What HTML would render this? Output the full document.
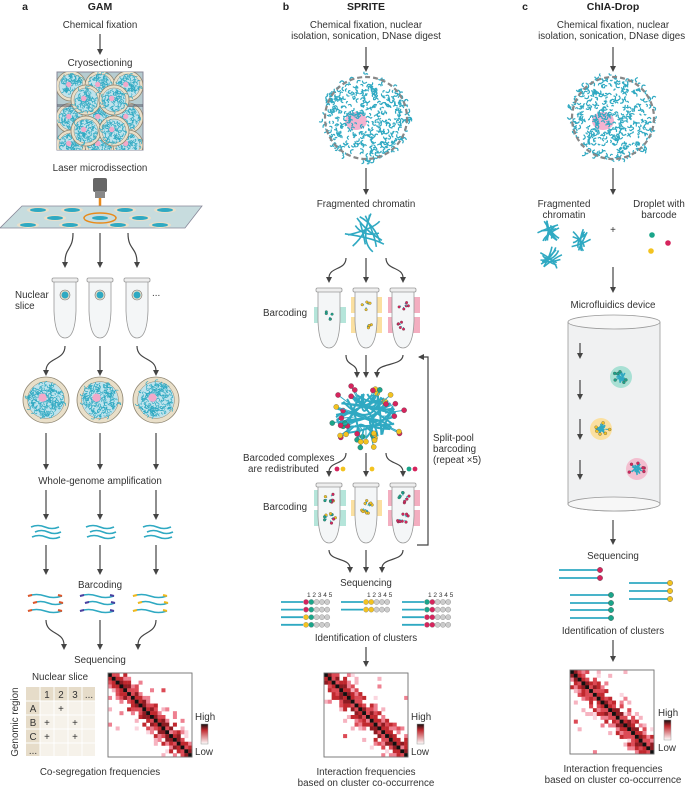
<!DOCTYPE html>
<html><head><meta charset="utf-8"><style>
html,body{margin:0;padding:0;background:#fff}
svg{display:block}
text{font-family:"Liberation Sans",sans-serif;font-size:9.8px;fill:#333}
.b{font-weight:bold;font-size:10.5px;fill:#222}
</style></head><body>
<svg id="s" width="685" height="787" viewBox="0 0 685 787" xmlns="http://www.w3.org/2000/svg">
<defs>
<linearGradient id="hg" x1="0" y1="0" x2="0" y2="1"><stop offset="0" stop-color="#111"/><stop offset="0.3" stop-color="#c0282e"/><stop offset="1" stop-color="#fff"/></linearGradient>
<clipPath id="cpbox"><rect x="57" y="72" width="86" height="78"/></clipPath>
</defs>
<g id="g"></g>
</svg>
<script>
var G=document.getElementById('g');var NS='http://www.w3.org/2000/svg';
var seed=7;function R(){seed=(seed*16807)%2147483647;return seed/2147483647;}
function el(t,a,p){var e=document.createElementNS(NS,t);for(var k in a)e.setAttribute(k,a[k]);(p||G).appendChild(e);return e;}
function tx(x,y,s,anc,cls){var e=el('text',{x:x,y:y,'text-anchor':anc||'middle'});if(cls)e.setAttribute('class',cls);e.textContent=s;return e;}
var AC='#444';
function head(x,y,ang){var a=ang*Math.PI/180,l=6,w=3;var bx=x-l*Math.cos(a),by=y-l*Math.sin(a);
 el('path',{d:'M'+x+','+y+' L'+(bx+w*Math.sin(a))+','+(by-w*Math.cos(a))+' L'+(bx-w*Math.sin(a))+','+(by+w*Math.cos(a))+'Z',fill:AC});}
function arr(x,y1,y2){el('line',{x1:x,y1:y1,x2:x,y2:y2-5,stroke:AC,'stroke-width':1.2});head(x,y2,90);}
function carr(x1,y1,x2,y2){var m=(y1+y2)/2;el('path',{d:'M'+x1+','+y1+' C'+x1+','+(m)+' '+x2+','+(m-4)+' '+x2+','+(y2-5),fill:'none',stroke:AC,'stroke-width':1.2});head(x2,y2,90);}
var CY='#2fa9c2';
function squig(cx,cy,r,n,sw){for(var i=0;i<n;i++){var a=R()*6.283,d=Math.sqrt(R())*r;var x=cx+d*Math.cos(a),y=cy+d*Math.sin(a);var b=R()*6.283,l=2+R()*3;
 el('path',{d:'M'+x+','+y+' q'+(l*Math.cos(b))+','+(l*Math.sin(b))+' '+(l*Math.cos(b+1))+','+(l*Math.sin(b+1)),stroke:CY,'stroke-width':sw||1,fill:'none'});}}
function cell(cx,cy,r,pink){el('circle',{cx:cx,cy:cy,r:r,fill:'#e9dfc9',stroke:'#8d8470','stroke-width':0.8});el('circle',{cx:cx,cy:cy,r:r*0.8,fill:'#bfe3ec',stroke:'#8d8470','stroke-width':0.5});
 squig(cx,cy,r*0.75,Math.floor(r*r*0.35),0.7);if(pink)el('circle',{cx:cx-r*0.15,cy:cy-r*0.1,r:r*0.18,fill:'#f2a9c9'});}
function nucleus(cx,cy){el('circle',{cx:cx,cy:cy,r:42,fill:'#fff'});el('ellipse',{cx:cx-10,cy:cy+3,rx:11,ry:9,fill:'#f4b3d0'});squig(cx,cy,44,420,1.2);
 el('circle',{cx:cx,cy:cy,r:41,fill:'none',stroke:'#888','stroke-width':2.2,'stroke-dasharray':'5 3'});}
function tube(x,y,h){var w=11;el('path',{d:'M'+(x-w)+','+(y+3)+' L'+(x-w)+','+(y+h*0.55)+' Q'+(x-w+1)+','+(y+h)+' '+x+','+(y+h)+' Q'+(x+w-1)+','+(y+h)+' '+(x+w)+','+(y+h*0.55)+' L'+(x+w)+','+(y+3)+'Z',fill:'#f4f6f7',stroke:'#999','stroke-width':0.8});
 el('rect',{x:x-w-2,y:y,width:2*w+4,height:4,rx:1.5,fill:'#eee',stroke:'#999','stroke-width':0.8});}
function heat(x,y,w,h){var n=22,cw=w/n,chh=h/n;el('rect',{x:x,y:y,width:w,height:h,fill:'#fff',stroke:'#777','stroke-width':0.8});
 var cols=['#111','#8e1b22','#c0282e','#dc4a55','#ee8090','#f6b3c0','#fbd5de'];
 for(var i=0;i<n;i++)for(var j=0;j<n;j++){var d=Math.abs(i-j),c=null;
  if(d==0)c=cols[0];else if(d<=2&&R()<0.92)c=cols[1+Math.floor(R()*3)];else if(d<=4&&R()<0.6)c=cols[2+Math.floor(R()*3)];else if(d<=7&&R()<0.2)c=cols[4+Math.floor(R()*3)];else if(R()<0.03)c=cols[3+Math.floor(R()*3)];
  if(c)el('rect',{x:x+j*cw,y:y+i*chh,width:cw+0.2,height:chh+0.2,fill:c});}
 el('rect',{x:x,y:y,width:w,height:h,fill:'none',stroke:'#777','stroke-width':0.8});}
function legend(x,y){tx(x,y,'High','start');el('rect',{x:x+6,y:y+4,width:7,height:20,fill:'url(#hg)',stroke:'#999','stroke-width':0.5});tx(x,y+35,'Low','start');}
function blob(cx,cy,s){for(var i=0;i<9;i++){var a=R()*6.28,l=s*(0.6+R()*0.6);el('path',{d:'M'+(cx-l*Math.cos(a))+','+(cy-l*Math.sin(a))+' Q'+(cx+(R()-0.5)*s)+','+(cy+(R()-0.5)*s)+' '+(cx+l*Math.cos(a+0.6))+','+(cy+l*Math.sin(a+0.6)),stroke:CY,'stroke-width':1.6,fill:'none'});}}
var GR='#1aa58a',YE='#f3c320',PK='#d6245d';
function dots(cx,cy,rr,n,cs,r){for(var i=0;i<n;i++){var a=R()*6.28,d=rr*(0.6+R()*0.5);var x=cx+d*Math.cos(a),y=cy+d*Math.sin(a)*0.85;
 el('line',{x1:cx+d*0.5*Math.cos(a),y1:cy+d*0.5*Math.sin(a)*0.85,x2:x,y2:y,stroke:CY,'stroke-width':1});el('circle',{cx:x,cy:y,r:r,fill:cs[i%cs.length],stroke:'#444','stroke-width':0.3});}}

tx(25,10,'a','middle','b');tx(100,10,'GAM','middle','b');tx(286,10,'b','middle','b');tx(366,10,'SPRITE','middle','b');tx(525,10,'c','middle','b');tx(613,10,'ChIA-Drop','middle','b');
// ---- Column a
tx(100,28,'Chemical fixation');arr(100,34,55);tx(100,66,'Cryosectioning');
el('rect',{x:57,y:72,width:86,height:78,fill:'#b6ccd0',stroke:'#889','stroke-width':1});
var cg=el('g',{'clip-path':'url(#cpbox)'});var GG=G;G=cg;
[[71,86],[100,86],[128,86],[71,118],[100,118],[128,118],[71,145],[100,145],[128,145]].forEach(function(p){cell(p[0],p[1],15,true);});
el('rect',{x:57,y:104,width:86,height:3,fill:'#556',opacity:0.5});
[[86,100],[114,100],[86,131],[114,131]].forEach(function(p){cell(p[0],p[1],15,true);});
G=GG;
tx(100,171,'Laser microdissection');
el('rect',{x:93,y:178,width:14,height:14,fill:'#666',rx:2});el('rect',{x:95,y:191,width:10,height:7,fill:'#888'});el('line',{x1:100,y1:198,x2:100,y2:215,stroke:'#e88a1a','stroke-width':2.5});
el('path',{d:'M22,206 L202,206 L185,228 L0,228 Z',fill:'#c7dcde',stroke:'#889','stroke-width':0.8});
[[38,210],[72,210],[125,210],[165,210],[55,218],[140,218],[28,225],[70,225],[118,225],[160,225]].forEach(function(p){el('ellipse',{cx:p[0],cy:p[1],rx:11,ry:3,fill:'#e9dfc9'});el('ellipse',{cx:p[0],cy:p[1],rx:8,ry:2,fill:CY});});
el('ellipse',{cx:100,cy:218,rx:16,ry:5,fill:'none',stroke:'#e88a1a','stroke-width':1.5});el('ellipse',{cx:100,cy:218,rx:8,ry:2,fill:CY});
carr(73,233,65,268);arr(100,233,268);carr(128,233,137,268);
[65,100,137].forEach(function(x){tube(x,278,60);el('circle',{cx:x,cy:295,r:5,fill:'#e9dfc9',stroke:'#777','stroke-width':0.6});el('circle',{cx:x,cy:295,r:3.5,fill:CY});});
tx(15,298,'Nuclear','start');tx(15,309,'slice','start');tx(152,296,'...','start');
carr(65,346,46,376);arr(100,346,376);carr(137,346,156,376);
[46,100,156].forEach(function(x){cell(x,400,23,true);});
arr(46,433,470);arr(100,433,470);arr(156,433,470);
tx(100,484,'Whole-genome amplification');
arr(46,490,520);arr(100,490,520);arr(156,490,520);
function wave(x,y,w,c1){el('path',{d:'M'+x+','+y+' q'+(w/4)+',-3 '+(w/2)+',0 t'+(w/2)+',0',stroke:CY,'stroke-width':1.6,fill:'none'});if(c1){el('line',{x1:x,y1:y,x2:x+4,y2:y-1,stroke:c1,'stroke-width':2});el('line',{x1:x+w-4,y1:y-1,x2:x+w,y2:y,stroke:c1,'stroke-width':2});}}
[31,86,143].forEach(function(x){wave(x,527,28);wave(x+4,532,26);wave(x+1,537,28);});
arr(46,545,575);arr(100,545,575);arr(156,545,575);
tx(100,588,'Barcoding');
[[28,'#e0562a'],[80,'#4b3fa0'],[133,'#f2b81b']].forEach(function(p){wave(p[0],596,34,p[1]);wave(p[0]+5,603,30,p[1]);wave(p[0],611,34,p[1]);});
carr(46,620,64,650);arr(100,620,650);carr(156,620,138,650);
tx(100,663,'Sequencing');
tx(60,680,'Nuclear slice');
el('rect',{x:26,y:687,width:69,height:69,fill:'#f6f2ea'});el('rect',{x:26,y:687,width:69,height:14,fill:'#e6dcc9'});el('rect',{x:26,y:687,width:14,height:69,fill:'#e6dcc9'});
for(var i=1;i<5;i++){el('line',{x1:26,y1:687+i*14,x2:95,y2:687+i*14,stroke:'#fff','stroke-width':1});el('line',{x1:26+i*14,y1:687,x2:26+i*14,y2:756,stroke:'#fff','stroke-width':1});}
['1','2','3','...'].forEach(function(s,i){tx(47+i*14,698,s);});['A','B','C','...'].forEach(function(s,i){tx(33,712+i*14,s);});
tx(61,712,'+');tx(47,726,'+');tx(75,726,'+');tx(47,740,'+');tx(75,740,'+');
var gr=tx(0,0,'Genomic region');gr.setAttribute('transform','translate(18,722) rotate(-90)');
heat(108,673,84,84);legend(195,720);
tx(100,775,'Co-segregation frequencies');
// ---- Column b
tx(366,28,'Chemical fixation, nuclear');tx(366,39,'isolation, sonication, DNase digest');
arr(366,47,72);nucleus(366,118);arr(366,168,195);tx(366,207,'Fragmented chromatin');blob(366,233,18);
carr(346,258,329,283);arr(366,258,283);carr(386,258,403,283);
el('rect',{x:314,y:307,width:32,height:16,fill:'#a8e0d4',opacity:0.85});
el('rect',{x:351,y:297,width:31,height:16,fill:'#fbe0a0'});el('rect',{x:351,y:317,width:31,height:16,fill:'#fbe0a0'});
el('rect',{x:388,y:297,width:32,height:16,fill:'#f3aec0'});el('rect',{x:388,y:317,width:32,height:16,fill:'#f3aec0'});
[329,366,403].forEach(function(x){tube(x,288,60);});
dots(329,315,5,5,[GR],1.3);dots(366,305,5,5,[YE],1.3);dots(366,325,5,5,[YE],1.3);dots(403,305,5,5,[PK],1.3);dots(403,325,5,5,[PK],1.3);
tx(263,316,'Barcoding','start');
carr(346,355,357,378);arr(366,355,378);carr(403,355,377,378);
for(var k=0;k<26;k++){var a=R()*6.28,b=R()*6.28;el('path',{d:'M'+(366+30*Math.cos(a))+','+(416+22*Math.sin(a))+' Q'+(366+(R()-0.5)*40)+','+(416+(R()-0.5)*30)+' '+(366+30*Math.cos(b))+','+(416+22*Math.sin(b)),stroke:CY,'stroke-width':2,fill:'none'});}
dots(366,416,36,40,[PK,YE,GR,YE,PK],2.6);
el('path',{d:'M419,357 L428,357 L428,545 L417,545',stroke:AC,'stroke-width':1.2,fill:'none'});head(418,357,180);
tx(433,441,'Split-pool','start');tx(433,452,'barcoding','start');tx(433,463,'(repeat ×5)','start');
tx(243,461,'Barcoded complexes','start');tx(248,472,'are redistributed','start');
carr(346,453,329,477);arr(366,453,477);carr(386,453,403,477);
[[337,469,PK],[343,469,YE],[372,469,YE],[409,469,GR],[415,469,PK]].forEach(function(p){el('circle',{cx:p[0],cy:p[1],r:2.4,fill:p[2]});});
el('rect',{x:314,y:490,width:32,height:16,fill:'#a8e0d4',opacity:0.85});el('rect',{x:314,y:510,width:32,height:16,fill:'#a8e0d4',opacity:0.85});
el('rect',{x:351,y:500,width:31,height:16,fill:'#fbe0a0'});
el('rect',{x:388,y:490,width:32,height:16,fill:'#f3aec0'});el('rect',{x:388,y:510,width:32,height:16,fill:'#f3aec0'});
[329,366,403].forEach(function(x){tube(x,483,60);});
dots(329,498,6,8,[GR,PK,YE],1.4);dots(329,518,6,8,[GR,YE,PK],1.4);dots(366,507,7,10,[YE],1.4);dots(403,498,6,8,[PK,GR],1.4);dots(403,518,6,8,[PK],1.4);
tx(263,510,'Barcoding','start');
carr(329,550,350,573);arr(366,550,573);carr(403,550,382,573);
tx(366,586,'Sequencing');
function reads(x0,rows){tx(x0+26,597,'1 2 3 4 5','start').setAttribute('style','font-size:6.5px');
 rows.forEach(function(r,i){var y=602+i*7.6;el('line',{x1:x0,y1:y,x2:x0+22,y2:y,stroke:CY,'stroke-width':1.8});
 for(var j=0;j<5;j++)el('circle',{cx:x0+25+j*5.3,cy:y,r:2.6,fill:r[j]||'#ccc',stroke:'#888','stroke-width':0.4});});}
reads(281,[[PK,GR],[PK,GR],[YE,GR],[YE,GR]]);reads(341,[[YE,YE],[YE,YE]]);reads(402,[[GR,PK],[GR,PK],[PK,PK],[PK,PK]]);
tx(366,641,'Identification of clusters');arr(366,647,667);
heat(324,673,84,84);legend(411,720);
tx(366,775,'Interaction frequencies');tx(366,786,'based on cluster co-occurrence');
// ---- Column c
tx(613,28,'Chemical fixation, nuclear');tx(613,39,'isolation, sonication, DNase digest');
arr(613,47,72);nucleus(613,118);arr(613,168,195);
tx(564,207,'Fragmented');tx(564,218,'chromatin');tx(659,207,'Droplet with');tx(659,218,'barcode');tx(613,233,'+');
blob(549,232,10);blob(580,240,10);blob(551,258,10);
el('circle',{cx:652,cy:235,r:2.8,fill:GR});el('circle',{cx:668,cy:243,r:2.8,fill:PK});el('circle',{cx:651,cy:251,r:2.8,fill:YE});
arr(613,267,293);tx(613,308,'Microfluidics device');
el('path',{d:'M568,322 L568,504 A46,7 0 0 0 660,504 L660,322',fill:'#f0f1f2',stroke:'#999','stroke-width':0.8});
el('ellipse',{cx:614,cy:322,rx:46,ry:7,fill:'#f7f7f7',stroke:'#999','stroke-width':0.8});
el('ellipse',{cx:614,cy:504,rx:46,ry:7,fill:'#f7f7f7',stroke:'#999','stroke-width':0.8});
arr(580,343,359);arr(580,380,400);arr(580,419,440);arr(580,460,480);
el('circle',{cx:621,cy:377,r:11,fill:'#a8e0d4'});blob(621,377,5);dots(621,377,8,6,[GR],1.5);
el('circle',{cx:601,cy:429,r:11,fill:'#fbe0a0'});blob(601,429,5);dots(601,429,8,6,[YE],1.5);
el('circle',{cx:637,cy:469,r:11,fill:'#f3bfd0'});blob(637,469,5);dots(637,469,8,6,[PK],1.5);
arr(613,520,545);tx(613,559,'Sequencing');
function rd(x,y,c){el('line',{x1:x,y1:y,x2:x+40,y2:y,stroke:CY,'stroke-width':1.8});el('circle',{cx:x+41,cy:y,r:2.7,fill:c,stroke:'#555','stroke-width':0.4});}
rd(559,570,PK);rd(559,578,PK);rd(629,583,YE);rd(629,591,YE);rd(629,599,YE);rd(570,595,GR);rd(570,603,GR);rd(570,610,GR);rd(570,618,GR);
tx(613,634,'Identification of clusters');arr(613,640,662);
heat(570,670,84,84);legend(658,716);
tx(613,772,'Interaction frequencies');tx(613,783,'based on cluster co-occurrence');
</script>
</body></html>
